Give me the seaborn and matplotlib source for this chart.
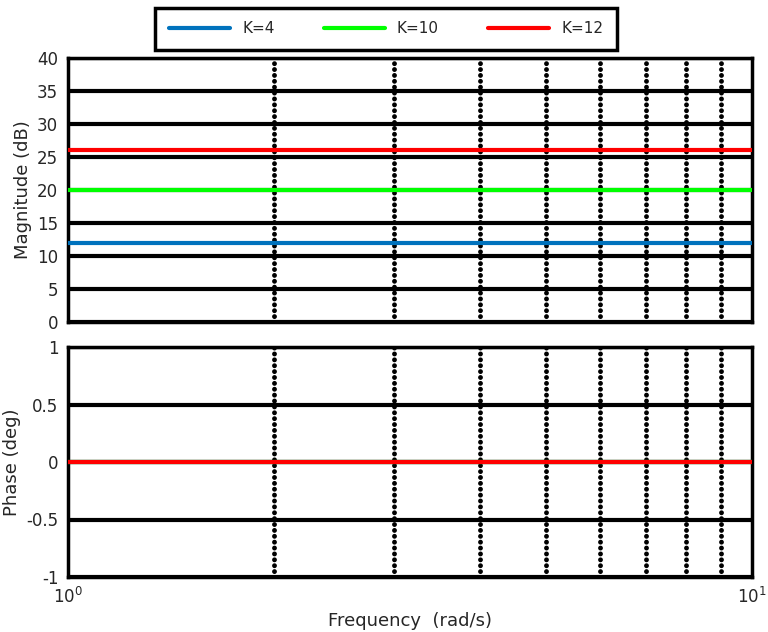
import numpy as np
import pandas as pd
import matplotlib
matplotlib.use("Agg")
import matplotlib.pyplot as plt
import matplotlib.ticker as mticker
import seaborn as sns

gains = ["K=4", "K=10", "K=12"]
mag_db = [12, 20, 26]
phase_deg = [0, 0, 0]
colors = ["#0072BD", "#00FF00", "#FF0000"]
freq = [1, 10]

sns.set_style("white")
plt.rcParams['font.family'] = ['DejaVu Sans']

rows = []
for g, m, p in zip(gains, mag_db, phase_deg):
    for f in freq:
        rows.append({"K": g, "w": f, "mag": m, "phase": p})
df = pd.DataFrame(rows)

fig = plt.figure(figsize=(7.68, 6.32), dpi=100)
ax1 = fig.add_axes([68/768, 1-322/632, 684/768, 264/632])
ax2 = fig.add_axes([68/768, 1-577/632, 684/768, 230/632])

def grid(ax, yt):
    for y in yt:
        ax.axhline(y, color="black", lw=3, zorder=1)
    for x in range(2, 10):
        ax.axvline(x, color="black", lw=3.5, ls=(0, (0.01, 1.2)),
                   dash_capstyle="round", zorder=1)

grid(ax1, range(0, 41, 5))
grid(ax2, [-1, -0.5, 0, 0.5, 1])

pal = dict(zip(gains, colors))
sns.lineplot(data=df, x="w", y="mag", hue="K", palette=pal, lw=3, ax=ax1, zorder=3)
sns.lineplot(data=df, x="w", y="phase", hue="K", palette=pal, lw=3, ax=ax2, zorder=3, legend=False)

for ax in (ax1, ax2):
    ax.set_xscale("log")
    ax.set_xlim(1, 10)
    ax.xaxis.set_minor_formatter(mticker.NullFormatter())
    ax.xaxis.set_minor_locator(mticker.NullLocator())
    for s in ax.spines.values():
        s.set_linewidth(2.5)
        s.set_color("black")
    ax.tick_params(labelsize=12)
ax1.set_ylim(0, 40)
ax1.set_yticks(range(0, 41, 5))
ax1.set_xticks([1, 10])
ax1.set_xticklabels([])
ax1.set_xlabel("")
ax1.set_ylabel("Magnitude (dB)", fontsize=13)
ax2.set_ylim(-1, 1)
ax2.set_yticks([-1, -0.5, 0, 0.5, 1])
ax2.set_yticklabels(["-1", "-0.5", "0", "0.5", "1"])
ax2.set_xticks([1, 10])
ax2.set_xticklabels(["$10^0$", "$10^1$"])
ax2.set_ylabel("Phase (deg)", fontsize=13)
ax2.set_xlabel("Frequency  (rad/s)", fontsize=13)

h, l = ax1.get_legend_handles_labels()
ax1.legend_.remove()
leg = fig.legend(h, l, loc="upper center", bbox_to_anchor=(386/768, 1.0), ncol=3,
                 fancybox=False, edgecolor="black", fontsize=11, handlelength=4,
                 columnspacing=3.2, framealpha=1, borderpad=0.9)
leg.get_frame().set_linewidth(2.5)

fig.savefig("out.png", dpi=100)
